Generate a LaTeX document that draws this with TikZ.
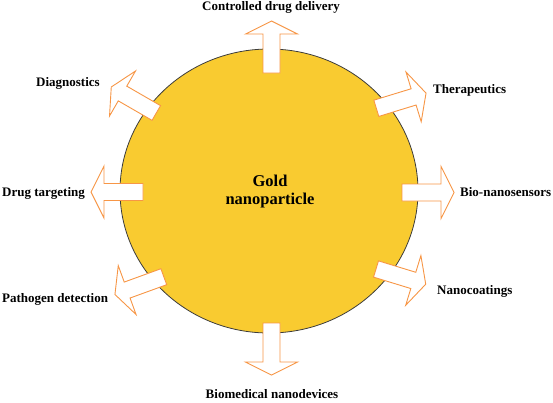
\documentclass[tikz,border=0pt]{standalone}
\usepackage{fontspec}
\setmainfont{Liberation Serif}
\usetikzlibrary{shapes.geometric}
\definecolor{goldfill}{RGB}{249,203,48}
\definecolor{goldedge}{RGB}{60,60,60}
\definecolor{arroworange}{RGB}{247,150,70}
\tikzset{
  arrowline/.style={draw=arroworange, fill=white, line width=0.9pt, line join=miter},
  barrow/.pic={\draw[arrowline] (0,-8.5) -- (39,-8.5) -- (39,-26) -- (52,0) -- (39,26) -- (39,8.5) -- (0,8.5) -- cycle;},
  lbl/.style={font=\bfseries\fontsize{13}{15}\selectfont, inner sep=0pt, text=black},
}
\begin{document}
\begin{tikzpicture}[x=1pt,y=1pt]
\useasboundingbox (0,0) rectangle (553,-402);
% particle
\node[ellipse, minimum width=298pt, minimum height=284pt, fill=goldfill, draw=goldedge, line width=0.8pt, inner sep=0pt] (np) at (269,-191) {};
% arrows
\pic[rotate=90]  at (271.5,-73)   {barrow};
\pic[rotate=-90] at (271.5,-323)  {barrow};
\pic[rotate=0]   at (402,-192.5)  {barrow};
\pic[rotate=180] at (143,-192)    {barrow};
\pic[rotate=17]  at (376.3,-108.3) {barrow};
\pic[rotate=-17] at (376,-269)    {barrow};
\pic[rotate=150] at (156.3,-113)  {barrow};
\pic[rotate=200] at (163.8,-276.7) {barrow};
% centre text
\node[font=\bfseries\fontsize{16.5}{18}\selectfont, align=center, inner sep=0pt, anchor=base] (gold) at (270,-204.5) {Gold\\nanoparticle};
% labels
\node[lbl, anchor=base] (cdd) at (271,-10) {Controlled drug delivery};
\node[lbl, anchor=base west] (ther) at (433,-93) {Therapeutics};
\node[lbl, anchor=base west] (bio) at (460,-196) {Bio-nanosensors};
\node[lbl, anchor=base west] (nano) at (437,-294) {Nanocoatings};
\node[lbl, anchor=base] (bmd) at (272,-398) {Biomedical nanodevices};
\node[lbl, anchor=base west] (path) at (2,-302) {Pathogen detection};
\node[lbl, anchor=base west] (dt) at (2,-196) {Drug targeting};
\node[lbl, anchor=base west] (diag) at (36,-86) {Diagnostics};
\end{tikzpicture}
\end{document}
